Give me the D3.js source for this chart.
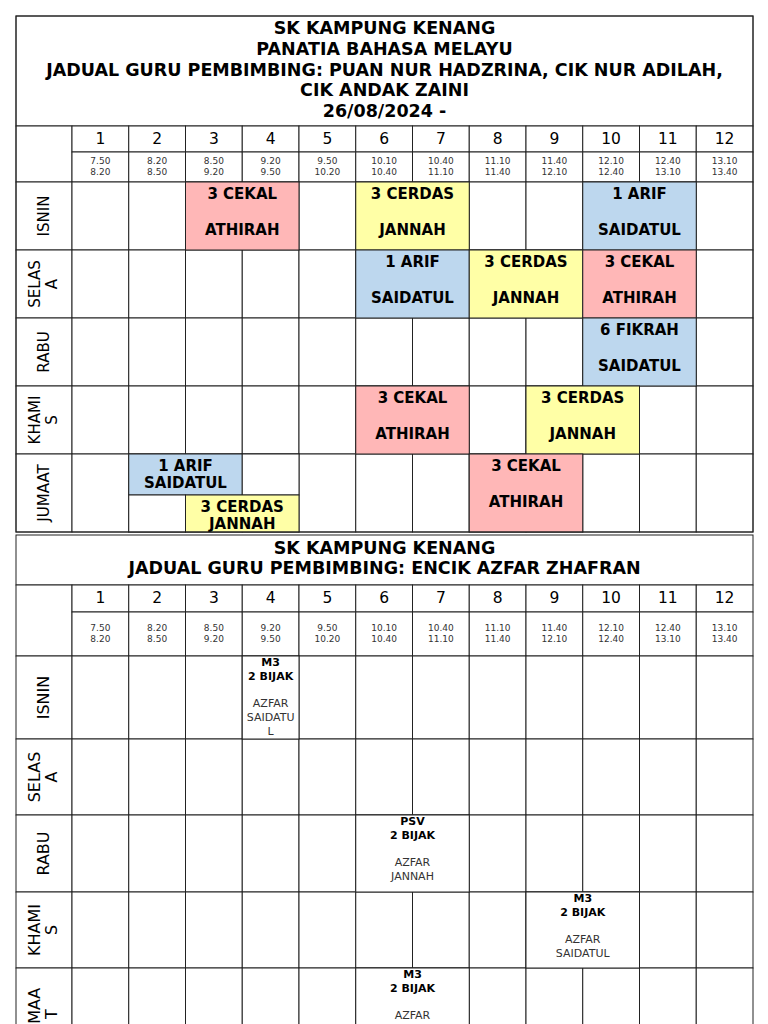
<!DOCTYPE html>
<html><head><meta charset="utf-8">
<script src="https://cdn.jsdelivr.net/npm/d3@7"></script>
<style>body{margin:0;background:#fff}svg{display:block;font-family:"DejaVu Sans",sans-serif}</style>
</head><body><svg id="c" width="768" height="1024"></svg>
<script>
const periods = ["1","2","3","4","5","6","7","8","9","10","11","12"];
const times = [["7.50","8.20"],["8.20","8.50"],["8.50","9.20"],["9.20","9.50"],["9.50","10.20"],["10.10","10.40"],["10.40","11.10"],["11.10","11.40"],["11.40","12.10"],["12.10","12.40"],["12.40","13.10"],["13.10","13.40"]];
const days1 = [["ISNIN"],["SELAS","A"],["RABU"],["KHAMI","S"],["JUMAAT"]];
const days2 = [["ISNIN"],["SELAS","A"],["RABU"],["KHAMI","S"],["JUMAA","T"]];
const title1 = ["SK KAMPUNG KENANG","PANATIA BAHASA MELAYU","JADUAL GURU PEMBIMBING: PUAN NUR HADZRINA, CIK NUR ADILAH,","CIK ANDAK ZAINI","26/08/2024 -"];
const title2 = ["SK KAMPUNG KENANG","JADUAL GURU PEMBIMBING: ENCIK AZFAR ZHAFRAN"];
const blocks1 = [
 [0,2,2,"full","p",["3 CEKAL","ATHIRAH"]],[0,5,2,"full","y",["3 CERDAS","JANNAH"]],[0,9,2,"full","b",["1 ARIF","SAIDATUL"]],
 [1,5,2,"full","b",["1 ARIF","SAIDATUL"]],[1,7,2,"full","y",["3 CERDAS","JANNAH"]],[1,9,2,"full","p",["3 CEKAL","ATHIRAH"]],
 [2,9,2,"full","b",["6 FIKRAH","SAIDATUL"]],
 [3,5,2,"full","p",["3 CEKAL","ATHIRAH"]],[3,8,2,"full","y",["3 CERDAS","JANNAH"]],
 [4,1,2,"top","b",["1 ARIF","SAIDATUL"]],[4,3,1,"top","w",[]],[4,1,1,"bottom","w",[]],[4,2,2,"bottom","y",["3 CERDAS","JANNAH"]],
 [4,7,2,"full","p",["3 CEKAL","ATHIRAH"]]
];
const blocks2 = [
 [0,3,1,[["M3",1],["2 BIJAK",1],["",0],["AZFAR",0],["SAIDATU",0],["L",0]]],
 [2,5,2,[["PSV",1],["2 BIJAK",1],["",0],["AZFAR",0],["JANNAH",0]]],
 [3,8,2,[["M3",1],["2 BIJAK",1],["",0],["AZFAR",0],["SAIDATUL",0]]],
 [4,5,2,[["M3",1],["2 BIJAK",1],["",0],["AZFAR",0]]]
];
const colours = {p:"#ffb7b7",y:"#ffffa6",b:"#bdd7ee",w:"#ffffff"};

const svg = d3.select("#c");
const x = d3.scaleLinear().domain([0,12]).range([72,753]);
const L = 16, R = 753;

function table(g, o){
  g.append("rect").attr("x",L).attr("y",o.top).attr("width",R-L).attr("height",o.hdr-o.top).attr("fill","#fff").attr("stroke","#222");
  o.title.forEach((t,i)=>g.append("text").attr("x",(L+R)/2).attr("y",o.titleY[i]).attr("text-anchor","middle")
    .attr("font-weight","bold").attr("font-size",17.5).attr("dominant-baseline","middle").text(t));
  const rows = o.rowEdges;
  g.append("rect").attr("x",L).attr("y",o.hdr).attr("width",x(0)-L).attr("height",o.timeB-o.hdr).attr("fill","#fff").attr("stroke","#222");
  periods.forEach((p,i)=>{
    g.append("rect").attr("x",x(i)).attr("y",o.hdr).attr("width",x(i+1)-x(i)).attr("height",o.numB-o.hdr).attr("fill","#fff").attr("stroke","#222");
    g.append("rect").attr("x",x(i)).attr("y",o.numB).attr("width",x(i+1)-x(i)).attr("height",o.timeB-o.numB).attr("fill","#fff").attr("stroke","#222");
    g.append("text").attr("x",(x(i)+x(i+1))/2).attr("y",(o.hdr+o.numB)/2).attr("text-anchor","middle").attr("dominant-baseline","middle").attr("font-size",15.5).text(p);
    const my=(o.numB+o.timeB)/2;
    times[i].forEach((t,k)=>g.append("text").attr("x",(x(i)+x(i+1))/2).attr("y",my+(k-0.5)*11).attr("text-anchor","middle").attr("dominant-baseline","middle").attr("font-size",9).attr("fill","#333").text(t));
  });
  o.days.forEach((d,r)=>{
    const y0=rows[r], y1=rows[r+1];
    g.append("rect").attr("x",L).attr("y",y0).attr("width",x(0)-L).attr("height",y1-y0).attr("fill","#fff").attr("stroke","#222");
    const cy=(Math.min(y1,1024)+y0)/2 + (y1>1024?8:0), cx=(L+x(0))/2;
    const t=g.append("text").attr("transform",`translate(${cx},${(y0+y1)/2}) rotate(-90)`).attr("text-anchor","middle").attr("font-size",o.dayFont);
    d.forEach((s,k)=>t.append("tspan").attr("x",0).attr("y",(k-(d.length-1)/2)*o.dayFont*1.1).attr("dominant-baseline","middle").text(s));
    periods.forEach((p,i)=>g.append("rect").attr("x",x(i)).attr("y",y0).attr("width",x(i+1)-x(i)).attr("height",y1-y0).attr("fill","#fff").attr("stroke","#222"));
  });
}

const g1 = svg.append("g");
const rows1=[182,250,318,386,454,532];
table(g1,{top:16,hdr:126,numB:152,timeB:182,title:title1,titleY:[29,50,71,91,112],rowEdges:rows1,days:days1,dayFont:15});
blocks1.forEach(([d,c,s,part,col,lines])=>{
  let y0=rows1[d], y1=rows1[d+1];
  if(d===4){const mid=495; if(part==="top") y1=mid; if(part==="bottom") y0=mid;}
  g1.append("rect").attr("x",x(c)).attr("y",y0).attr("width",x(c+s)-x(c)).attr("height",y1-y0).attr("fill",colours[col]).attr("stroke","#222");
  const cx=(x(c)+x(c+s))/2;
  const pos = part==="full" ? [y0+12,y0+48] : [y0+12,y0+29];
  lines.forEach((t,k)=>g1.append("text").attr("x",cx).attr("y",pos[k]).attr("text-anchor","middle").attr("dominant-baseline","middle").attr("font-weight","bold").attr("font-size",15).text(t));
});
g1.append("rect").attr("x",L).attr("y",16).attr("width",R-L).attr("height",516).attr("fill","none").attr("stroke","#222");

const g2 = svg.append("g");
const rows2=[656,739,815,892,968,1060];
table(g2,{top:535,hdr:585,numB:612,timeB:656,title:title2,titleY:[549,569],rowEdges:rows2,days:days2,dayFont:16});
blocks2.forEach(([d,c,s,lines])=>{
  const y0=rows2[d], y1=rows2[d+1];
  g2.append("rect").attr("x",x(c)).attr("y",y0).attr("width",x(c+s)-x(c)).attr("height",y1-y0).attr("fill","#fff").attr("stroke","#222");
  const cx=(x(c)+x(c+s))/2;
  lines.forEach(([t,b],k)=>g2.append("text").attr("x",cx).attr("y",y0+7+k*13.7).attr("text-anchor","middle").attr("dominant-baseline","middle")
    .attr("font-weight",b?"bold":"normal").attr("font-size",11).attr("fill",b?"#000":"#333").text(t));
});
</script></body></html>
